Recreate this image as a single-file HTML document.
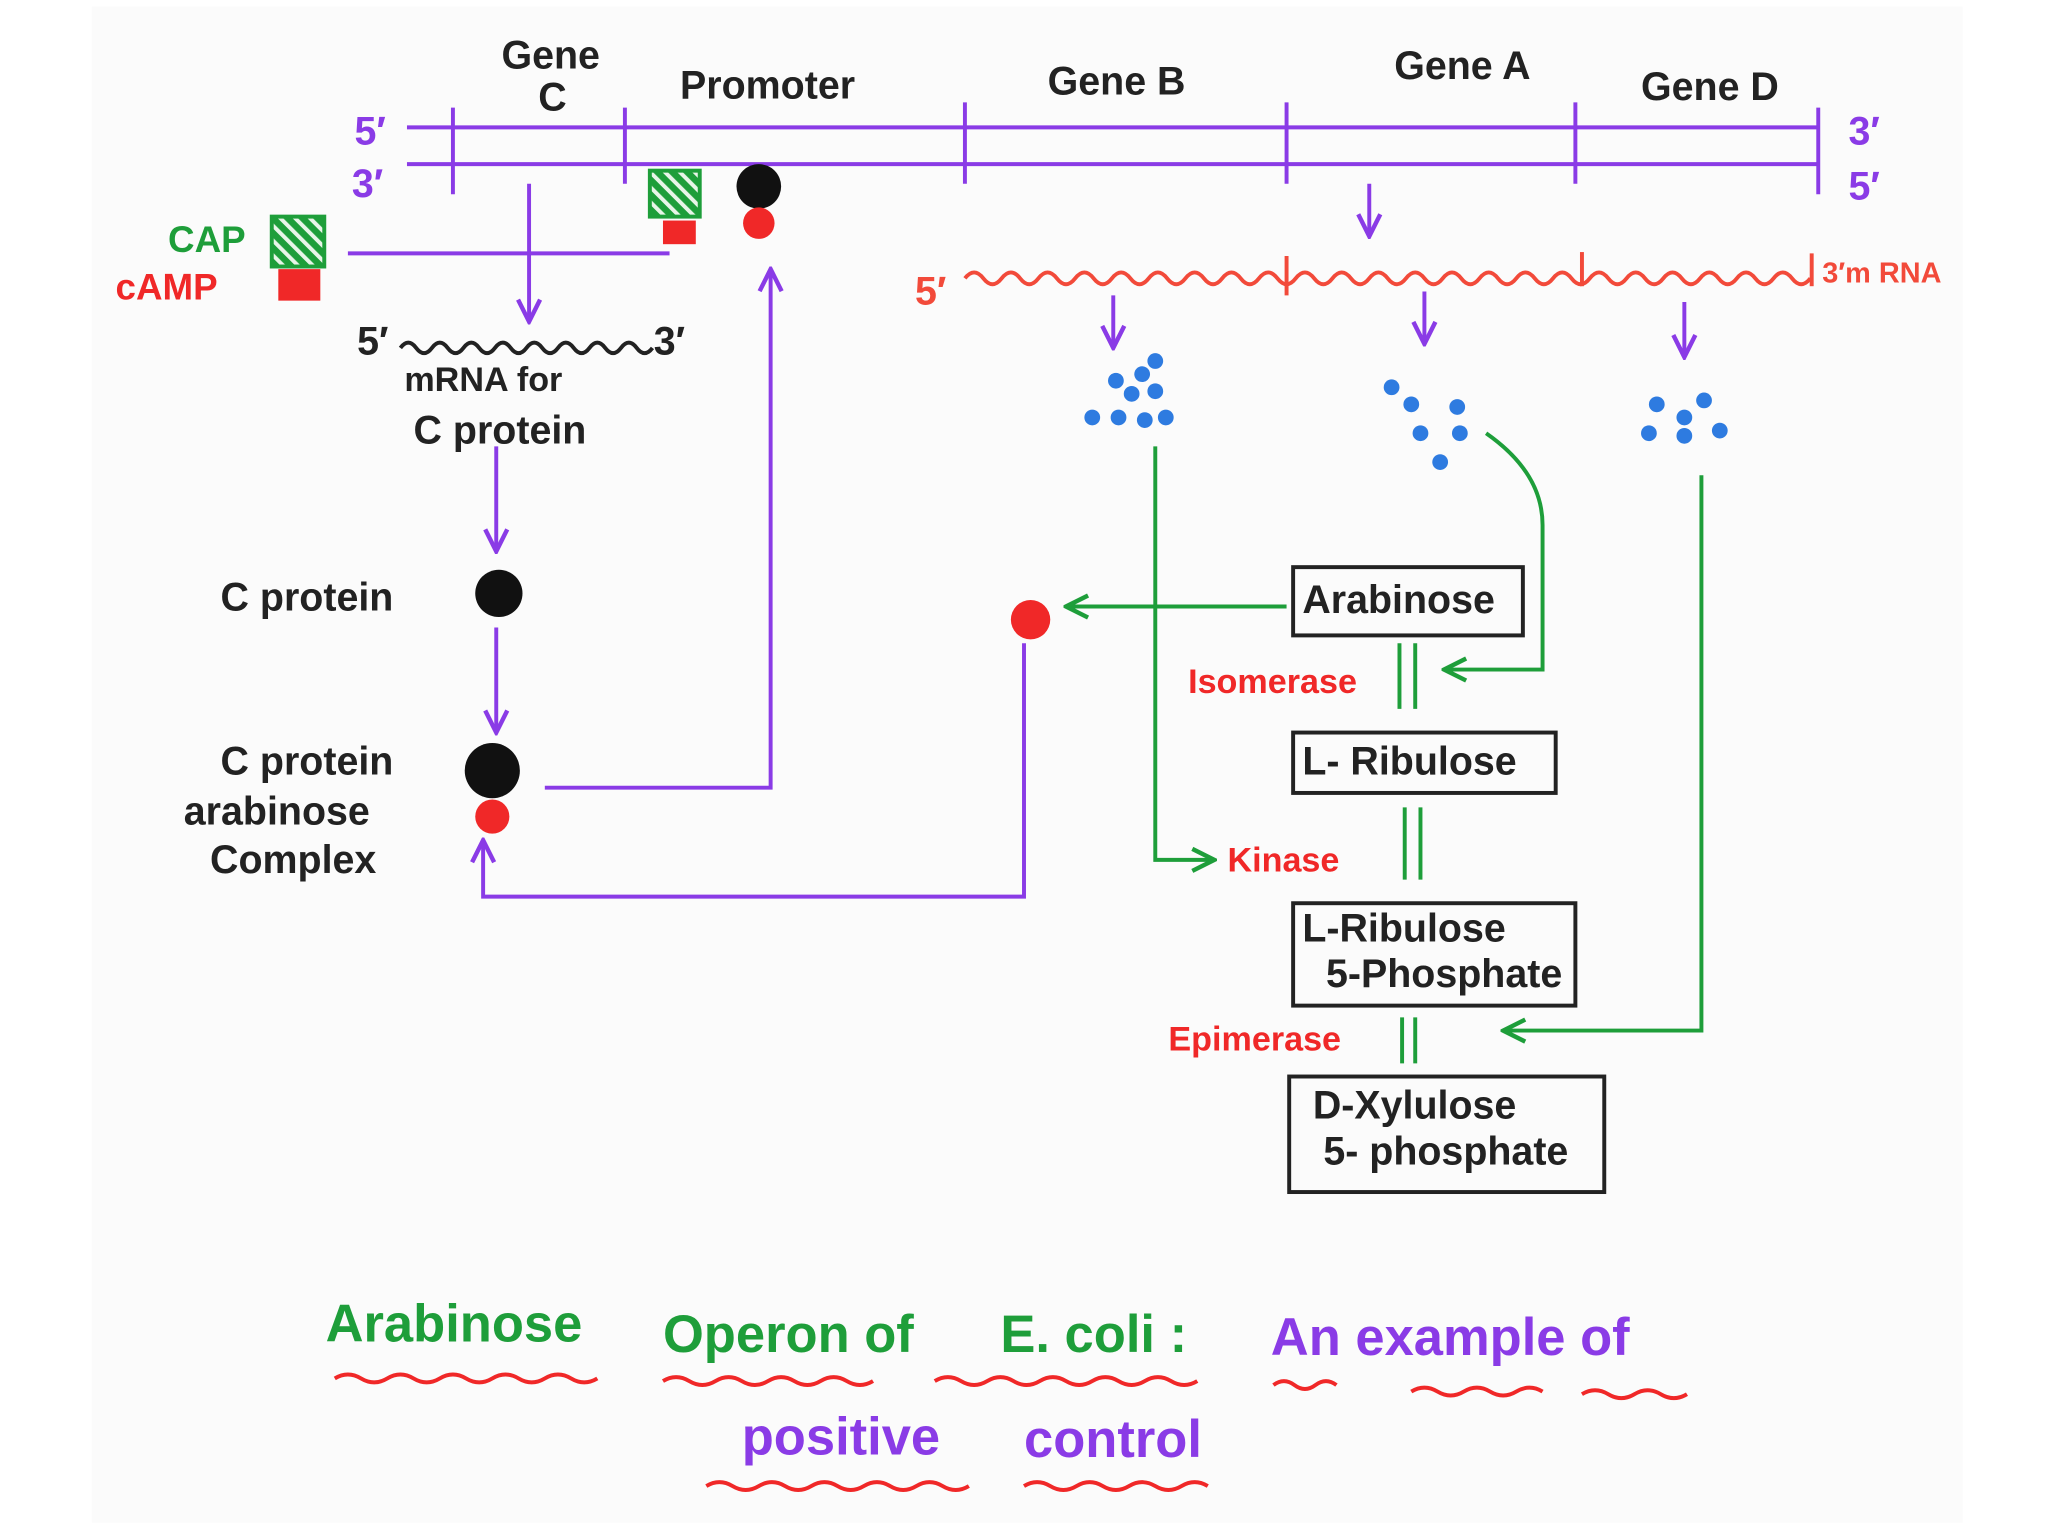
<!DOCTYPE html>
<html><head><meta charset="utf-8"><style>
html,body{margin:0;padding:0;background:#fff;}
svg{display:block;}
text{font-family:"Liberation Sans",sans-serif;font-weight:bold;}
</style></head><body>
<svg width="2048" height="1536" viewBox="0 0 1560 1170" preserveAspectRatio="none" xmlns="http://www.w3.org/2000/svg">
<defs>
<marker id="ap" viewBox="0 0 10 10" refX="9" refY="5" markerWidth="7" markerHeight="7" orient="auto"><path d="M1,1 L9,5 L1,9" fill="none" stroke="#8a3be6" stroke-width="1.6"/></marker>
<marker id="ag" viewBox="0 0 10 10" refX="9" refY="5" markerWidth="7" markerHeight="7" orient="auto"><path d="M1,1 L9,5 L1,9" fill="none" stroke="#1e9e3a" stroke-width="1.6"/></marker>
<pattern id="hatch" width="8" height="8" patternUnits="userSpaceOnUse" patternTransform="rotate(-45)"><rect width="8" height="8" fill="#1e9e3a"/><rect width="3" height="8" fill="#e8f5e8"/></pattern>
</defs>
<rect x="70" y="5" width="1425" height="1155" fill="#fbfbfb"/>
<g stroke="#8a3be6" stroke-width="3" fill="none">
<path d="M310,97 L1385,97"/><path d="M310,125 L1385,125"/>
<path d="M345,82V148"/><path d="M476,82V140"/><path d="M735,78V140"/><path d="M980,78V140"/><path d="M1200,78V140"/><path d="M1385,82V148"/>
<path d="M265,193 L510,193"/>
<path d="M403,140 V245" marker-end="url(#ap)"/>
<path d="M378,340 V420" marker-end="url(#ap)"/>
<path d="M378,478 V558" marker-end="url(#ap)"/>
<path d="M415,600 H587 V205" marker-end="url(#ap)"/>
<path d="M780,490 V683 H368 V640" marker-end="url(#ap)"/>
</g>
<g fill="#8a3be6" font-size="30">
<text x="270" y="110">5′</text><text x="268" y="150">3′</text>
<text x="1408" y="110">3′</text><text x="1408" y="152">5′</text>
</g>
<g fill="#222" font-size="30" font-weight="normal">
<text x="382" y="52">Gene</text><text x="410" y="84">C</text>
<text x="518" y="75">Promoter</text>
<text x="798" y="72">Gene B</text>
<text x="1062" y="60">Gene A</text>
<text x="1250" y="76">Gene D</text>
<text x="272" y="270">5′</text><text x="498" y="270">3′</text>
<text x="308" y="298" font-size="26">mRNA for</text>
<text x="315" y="338">C protein</text>
<text x="168" y="465">C protein</text>
<text x="168" y="590">C protein</text>
<text x="140" y="628">arabinose</text>
<text x="160" y="665">Complex</text>
</g>
<path d="M305,265 q6,-8 12,0 t12,0 t12,0 t12,0 t12,0 t12,0 t12,0 t12,0 t12,0 t12,0 t12,0 t12,0 t12,0 t12,0 t12,0 t12,0" stroke="#222" stroke-width="3" fill="none"/>
<text x="128" y="192" fill="#1e9e3a" font-size="28">CAP</text>
<text x="88" y="228" fill="#f02828" font-size="28">cAMP</text>
<rect x="207" y="165" width="40" height="38" fill="url(#hatch)" stroke="#1e9e3a" stroke-width="3"/>
<rect x="212" y="205" width="32" height="24" fill="#f02828"/>
<rect x="495" y="130" width="38" height="35" fill="url(#hatch)" stroke="#1e9e3a" stroke-width="3"/>
<rect x="505" y="168" width="25" height="18" fill="#f02828"/>
<circle cx="578" cy="142" r="17" fill="#111"/><circle cx="578" cy="170" r="12" fill="#f02828"/>
<circle cx="380" cy="452" r="18" fill="#111"/>
<circle cx="375" cy="587" r="21" fill="#111"/><circle cx="375" cy="622" r="13" fill="#f02828"/>
<circle cx="785" cy="472" r="15" fill="#f02828"/>
<path d="M735,212 q7,-9 14,0 t14,0 t14,0 t14,0 t14,0 t14,0 t14,0 t14,0 t14,0 t14,0 t14,0 t14,0 t14,0 t14,0 t14,0 t14,0 t14,0 t14,0 t14,0 t14,0 t14,0 t14,0 t14,0 t14,0 t14,0 t14,0 t14,0 t14,0 t14,0 t14,0 t14,0 t14,0 t14,0 t14,0 t14,0 t14,0 t14,0 t14,0 t14,0 t14,0 t14,0 t14,0 t14,0 t14,0 t14,0 t14,0" stroke="#f24a3a" stroke-width="3" fill="none"/>
<g stroke="#f24a3a" stroke-width="3"><path d="M980,195V225"/><path d="M1205,192V218"/><path d="M1380,193V218"/></g>
<text x="697" y="232" fill="#f24a3a" font-size="30">5′</text>
<text x="1388" y="215" fill="#f24a3a" font-size="22">3′m RNA</text>
<g stroke="#8a3be6" stroke-width="3" fill="none">
<path d="M1043,140V180" marker-end="url(#ap)"/>
<path d="M848,225V265" marker-end="url(#ap)"/>
<path d="M1085,222V262" marker-end="url(#ap)"/>
<path d="M1283,230V272" marker-end="url(#ap)"/>
</g>
<g fill="#2e7be0">
<circle cx="850" cy="290" r="6"/><circle cx="870" cy="285" r="6"/><circle cx="880" cy="275" r="6"/><circle cx="862" cy="300" r="6"/><circle cx="880" cy="298" r="6"/><circle cx="832" cy="318" r="6"/><circle cx="852" cy="318" r="6"/><circle cx="872" cy="320" r="6"/><circle cx="888" cy="318" r="6"/>
<circle cx="1060" cy="295" r="6"/><circle cx="1075" cy="308" r="6"/><circle cx="1110" cy="310" r="6"/><circle cx="1082" cy="330" r="6"/><circle cx="1112" cy="330" r="6"/><circle cx="1097" cy="352" r="6"/>
<circle cx="1262" cy="308" r="6"/><circle cx="1283" cy="318" r="6"/><circle cx="1298" cy="305" r="6"/><circle cx="1256" cy="330" r="6"/><circle cx="1283" cy="332" r="6"/><circle cx="1310" cy="328" r="6"/>
</g>
<g stroke="#1e9e3a" stroke-width="3" fill="none">
<path d="M880,340 V655 H925" marker-end="url(#ag)"/>
<path d="M1132,330 Q1175,360 1175,400 V510 H1100" marker-end="url(#ag)"/>
<path d="M1296,362 V785 H1145" marker-end="url(#ag)"/>
<path d="M980,462 H812" marker-end="url(#ag)"/>
<path d="M1066,490V540M1078,490V540"/>
<path d="M1070,615V670M1082,615V670"/>
<path d="M1068,775V810M1078,775V810"/>
</g>
<g stroke="#222" stroke-width="3" fill="none">
<rect x="985" y="432" width="175" height="52"/>
<rect x="985" y="558" width="200" height="46"/>
<rect x="985" y="688" width="215" height="78"/>
<rect x="982" y="820" width="240" height="88"/>
</g>
<g fill="#222" font-size="30" font-weight="normal">
<text x="992" y="467">Arabinose</text>
<text x="992" y="590">L- Ribulose</text>
<text x="992" y="717">L-Ribulose</text>
<text x="1010" y="752">5-Phosphate</text>
<text x="1000" y="852">D-Xylulose</text>
<text x="1008" y="887">5- phosphate</text>
</g>
<g fill="#f02828" font-size="26">
<text x="905" y="528">Isomerase</text>
<text x="935" y="664">Kinase</text>
<text x="890" y="800">Epimerase</text>
</g>
<g font-size="40" font-weight="normal">
<text x="248" y="1022" fill="#1e9e3a">Arabinose</text>
<text x="505" y="1030" fill="#1e9e3a">Operon of</text>
<text x="762" y="1030" fill="#1e9e3a">E. coli :</text>
<text x="968" y="1032" fill="#8a3be6">An example of</text>
<text x="565" y="1108" fill="#8a3be6">positive</text>
<text x="780" y="1110" fill="#8a3be6">control</text>
</g>
<g stroke="#f02828" stroke-width="3" fill="none">
<path d="M255,1050 q10,-6 20,0 t20,0 t20,0 t20,0 t20,0 t20,0 t20,0 t20,0 t20,0 t20,0"/>
<path d="M505,1052 q10,-6 20,0 t20,0 t20,0 t20,0 t20,0 t20,0 t20,0 t20,0"/>
<path d="M712,1052 q10,-6 20,0 t20,0 t20,0 t20,0 t20,0 t20,0 t20,0 t20,0 t20,0 t20,0"/>
<path d="M970,1055 q8,-6 16,0 t16,0 t16,0"/>
<path d="M1075,1060 q10,-6 20,0 t20,0 t20,0 t20,0 t20,0"/>
<path d="M1205,1062 q10,-6 20,0 t20,0 t20,0 t20,0"/>
<path d="M538,1132 q10,-6 20,0 t20,0 t20,0 t20,0 t20,0 t20,0 t20,0 t20,0 t20,0 t20,0"/>
<path d="M780,1132 q10,-6 20,0 t20,0 t20,0 t20,0 t20,0 t20,0 t20,0"/>
</g>
</svg>
</body></html>
